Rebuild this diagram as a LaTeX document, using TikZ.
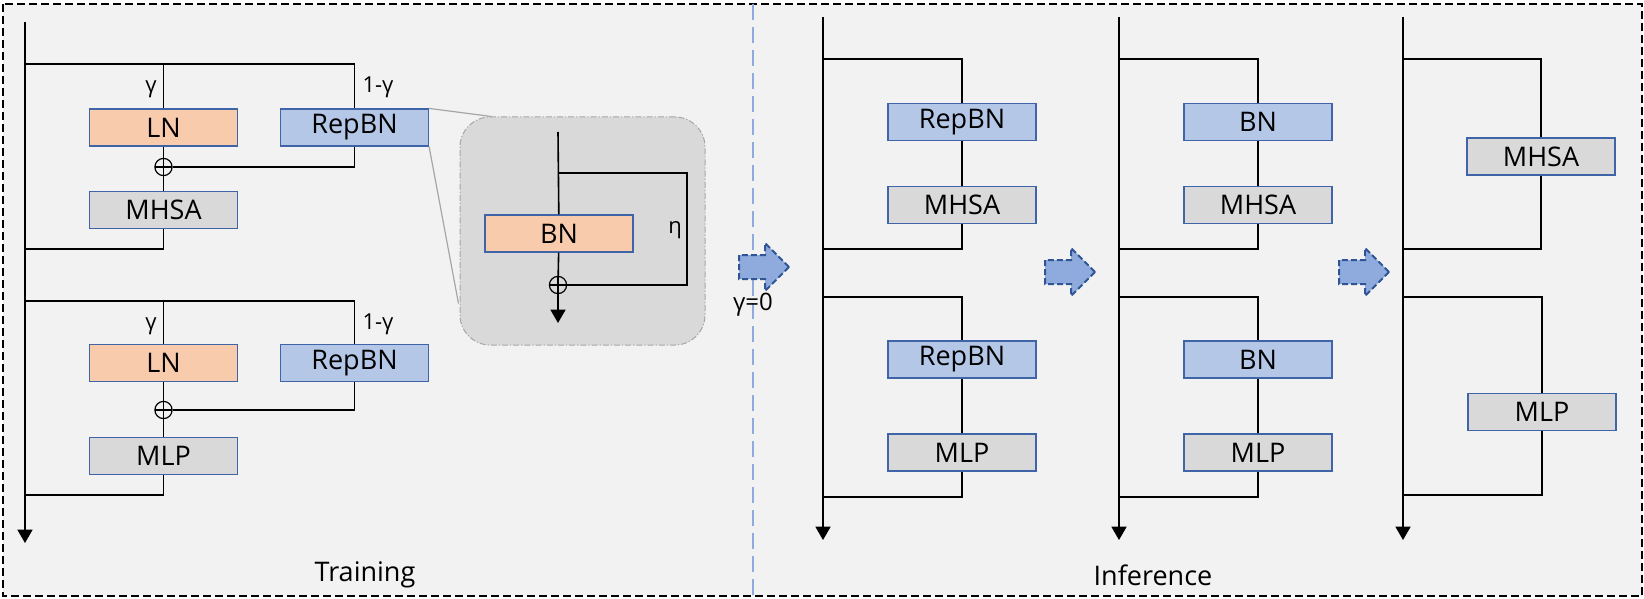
\documentclass[tikz,border=0pt]{standalone}
\usepackage{fontspec}
\setmainfont{Open Sans}
\usetikzlibrary{shapes,arrows,positioning,calc}

\definecolor{bgfill}{HTML}{F2F2F2}
\definecolor{lnfill}{HTML}{F8CBAD}
\definecolor{repfill}{HTML}{B4C7E7}
\definecolor{opfill}{HTML}{D9D9D9}
\definecolor{boxline}{HTML}{4064A8}
\definecolor{arrowfill}{HTML}{8FAADC}
\definecolor{arrowline}{HTML}{2F5597}
\definecolor{zoomline}{HTML}{A6A6A6}

\begin{document}
\begin{tikzpicture}[%
    x=0.5pt, y=-0.5pt,          % one unit is one pixel of the sketch, y runs down
    >=triangle 60,              % small filled heads on the residual streams
    ]
% -------------------------------------------------
% Box and line styles
\tikzset{
  base/.style={draw=boxline, line width=0.6pt, minimum width=74pt,
    minimum height=18.5pt, inner sep=0pt, font=\fontsize{13.5}{15}\selectfont},
  lnbox/.style={base, fill=lnfill},
  repbox/.style={base, fill=repfill},
  opbox/.style={base, fill=opfill},
  addop/.style={circle, draw, line width=0.6pt, minimum size=8.6pt, inner sep=0pt,
    path picture={\draw[line width=0.6pt]
      (path picture bounding box.north) -- (path picture bounding box.south)
      (path picture bounding box.west) -- (path picture bounding box.east);}},
  wire/.style={draw, line width=0.8pt},
  flow/.style={wire, ->},
  coef/.style={font=\fontsize{11}{12}\selectfont, inner sep=1pt},
  convarrow/.style={single arrow, draw=arrowline, fill=arrowfill, line width=1pt,
    dash pattern=on 3pt off 1.5pt, minimum height=25pt,
    inner xsep=0pt, inner ysep=5.5pt, text width=0pt, text height=0pt, text depth=0pt,
    single arrow head extend=6pt, single arrow tip angle=90},
  it/.style={font=\fontsize{13.5}{15}\selectfont}
}
\useasboundingbox (0,0) rectangle (1644,599);
\draw [fill=bgfill, line width=0.6pt, dash pattern=on 4pt off 2pt] (3,4) rectangle (1642,596);
\draw [arrowfill, line width=1.3pt, dash pattern=on 8pt off 3.5pt] (753,4) -- (753,596);

% -------------------------------------------------
% Training: mixed LN / RepBN normalisation
\coordinate (tr-in)  at (25,22);
\coordinate (tr-out) at (25,543);
\draw [flow] (tr-in) -- (tr-out);

\node [lnbox]  (ln1)   at (163.5,127.5) {LN};
\node [repbox] (rep1)  at (354.5,127.5) {RepBN};
\node [addop]  (add1)  at (163.5,167) {};
\node [opbox]  (mhsa1) at (163.5,210) {MHSA};
\coordinate (s1) at (25,64);
\coordinate (r1) at (25,249);
\draw [wire] (s1) -| (rep1.north);
\draw [wire] (ln1.north) -- (ln1 |- s1);
\draw [wire] (ln1) -- (add1) -- (mhsa1);
\draw [wire] (rep1.south) |- (add1.east);
\draw [wire] (mhsa1.south) |- (r1);
\node [coef] at (151,89) {γ};
\node [coef] at (378,87) {1-γ};

\node [lnbox]  (ln2)  at (163.5,363) {LN};
\node [repbox] (rep2) at (354.5,363) {RepBN};
\node [addop]  (add2) at (163.5,410) {};
\node [opbox]  (mlp2) at (163.5,456) {MLP};
\coordinate (s2) at (25,301);
\coordinate (r2) at (25,495);
\draw [wire] (s2) -| (rep2.north);
\draw [wire] (ln2.north) -- (ln2 |- s2);
\draw [wire] (ln2) -- (add2) -- (mlp2);
\draw [wire] (rep2.south) |- (add2.east);
\draw [wire] (mlp2.south) |- (r2);
\node [coef] at (151,326) {γ};
\node [coef] at (378,324) {1-γ};

\node [it] at (365,575) {Training};

% -------------------------------------------------
% Close-up of RepBN
\node [draw=zoomline, fill=opfill, dash pattern=on 3pt off 1pt on 0.6pt off 1pt,
  line width=0.5pt, rounded corners=15pt, minimum width=122.5pt,
  minimum height=114pt] (zoom) at (582.5,231) {};
\draw [zoomline, line width=0.6pt] (rep1.north east) -- ($(zoom.north west)+(32,0)$);
\draw [zoomline, line width=0.6pt] (rep1.south east) -- ($(zoom.south west)+(-1,-42)$);

\node [lnbox] (bn0)  at (559,233.5) {BN};
\node [addop] (add0) at (558,285) {};
\coordinate (z-in)  at (558,132);
\coordinate (z-out) at (558,323);
\coordinate (z-s)   at (558,173);
\coordinate (z-r)   at (687,173);
\draw [wire] (z-in) -- (bn0);
\draw [wire] (bn0) -- (add0);
\draw [flow] (add0) -- (z-out);
\draw [wire] (z-s) -- (z-r) |- (add0.east);
\node [coef] at (675,230) {η};

% -------------------------------------------------
% Conversion steps
\node [convarrow] (go1) at (758,267) {};
\node [convarrow] (go2) at (1064,272) {};
\node [convarrow] (go3) at (1358,272) {};
\node [font=\fontsize{12}{13}\selectfont] (gz) at (753,305) {γ=0};

% -------------------------------------------------
% Inference: RepBN, then BN
\foreach \c/\x/\nm in {a/823/RepBN, b/1119/BN} {
  \coordinate (\c-in)  at (\x,17);
  \coordinate (\c-out) at (\x,540);
  \draw [flow] (\c-in) -- (\c-out);
  \node [repbox] (\c-n1) at (\x+139,122) {\nm};
  \node [opbox]  (\c-f1) at (\x+139,205) {MHSA};
  \node [repbox] (\c-n2) at (\x+139,359.5) {\nm};
  \node [opbox]  (\c-f2) at (\x+139,452.5) {MLP};
  \coordinate (\c-s1) at (\x,59);
  \coordinate (\c-r1) at (\x,249);
  \coordinate (\c-s2) at (\x,297);
  \coordinate (\c-r2) at (\x,497);
  \draw [wire] (\c-s1) -| (\c-n1.north);
  \draw [wire] (\c-n1) -- (\c-f1);
  \draw [wire] (\c-f1.south) |- (\c-r1);
  \draw [wire] (\c-s2) -| (\c-n2.north);
  \draw [wire] (\c-n2) -- (\c-f2);
  \draw [wire] (\c-f2.south) |- (\c-r2);
}

% BN folded into the following layers
\coordinate (c-in)  at (1403,17);
\coordinate (c-out) at (1403,540);
\draw [flow] (c-in) -- (c-out);
\node [opbox] (c-f1) at (1541,156.5) {MHSA};
\node [opbox] (c-f2) at (1542,412) {MLP};
\coordinate (c-s1) at (1403,59);
\coordinate (c-r1) at (1403,249);
\coordinate (c-s2) at (1403,297);
\coordinate (c-r2) at (1403,495);
\draw [wire] (c-s1) -| (c-f1.north);
\draw [wire] (c-f1.south) |- (c-r1);
\draw [wire] (c-s2) -| (c-f2.north);
\draw [wire] (c-f2.south) |- (c-r2);

\node [it] at (1153,575) {Inference};
% -------------------------------------------------
\end{tikzpicture}
\end{document}
